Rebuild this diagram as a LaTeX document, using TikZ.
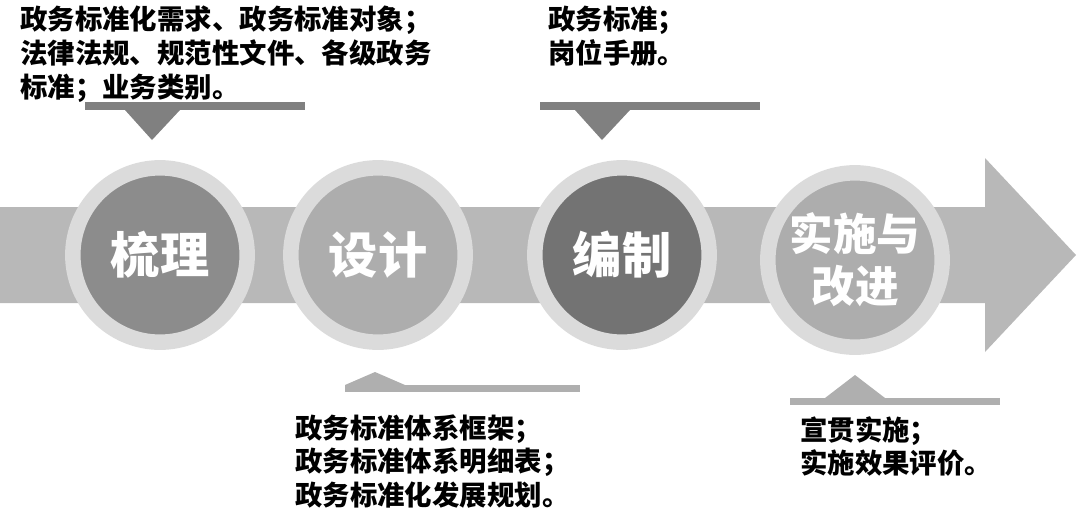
\documentclass[tikz,border=0pt]{standalone}
\usepackage{fontspec}
\newfontfamily\cjk{Noto Sans CJK SC}
\definecolor{band}{gray}{0.72}
\definecolor{ring}{gray}{0.86}
\definecolor{darkc}{gray}{0.45}
\definecolor{midc}{gray}{0.55}
\definecolor{lightc}{gray}{0.68}
\definecolor{barc}{gray}{0.5}
\tikzset{
  stage/.style={circle, draw=ring, line width=11pt, minimum size=124pt, inner sep=0pt, font=\cjk\bfseries\fontsize{35}{40}\selectfont, text=white, align=center},
  note/.style={anchor=north west, align=left, font=\cjk\bfseries\fontsize{19.5}{24}\selectfont, inner sep=0pt}
}
\begin{document}
\begin{tikzpicture}[x=0.025cm,y=-0.025cm]
\useasboundingbox (0,0) rectangle (1080,516);
% band and arrow head
\fill[band] (0,207) -- (985,207) -- (985,158) -- (1076,255) -- (985,352) -- (985,303) -- (0,303) -- cycle;
\node[stage, fill=midc] (s1) at (160,255) {梳理};
\node[stage, fill=lightc] (s2) at (378,255) {设计};
\node[stage, fill=darkc] (s3) at (622,255) {编制};
\node[stage, fill=lightc, font=\cjk\bfseries\fontsize{31}{37}\selectfont] (s4) at (855,260) {实施与\\改进};
% pointers
\fill[barc] (85,102) rectangle (305,110);
\fill[barc] (125,110) -- (180,110) -- (152,140) -- cycle;
\fill[barc] (540,102) rectangle (760,110);
\fill[barc] (575,110) -- (630,110) -- (602,140) -- cycle;
\fill[ring!80!black] (345,385) rectangle (580,392);
\fill[ring!80!black] (345,385) -- (405,385) -- (375,372) -- cycle;
\fill[ring!80!black] (790,398) rectangle (1000,405);
\fill[ring!80!black] (825,398) -- (885,398) -- (855,375) -- cycle;
% texts
\node[note] (t1) at (20,6) {政务标准化需求、政务标准对象；\\法律法规、规范性文件、各级政务\\标准；业务类别。};
\node[note] (t2) at (548,6) {政务标准；\\岗位手册。};
\node[note] (t3) at (295,414) {政务标准体系框架；\\政务标准体系明细表；\\政务标准化发展规划。};
\node[note] (t4) at (800,416) {宣贯实施；\\实施效果评价。};
\end{tikzpicture}
\end{document}
